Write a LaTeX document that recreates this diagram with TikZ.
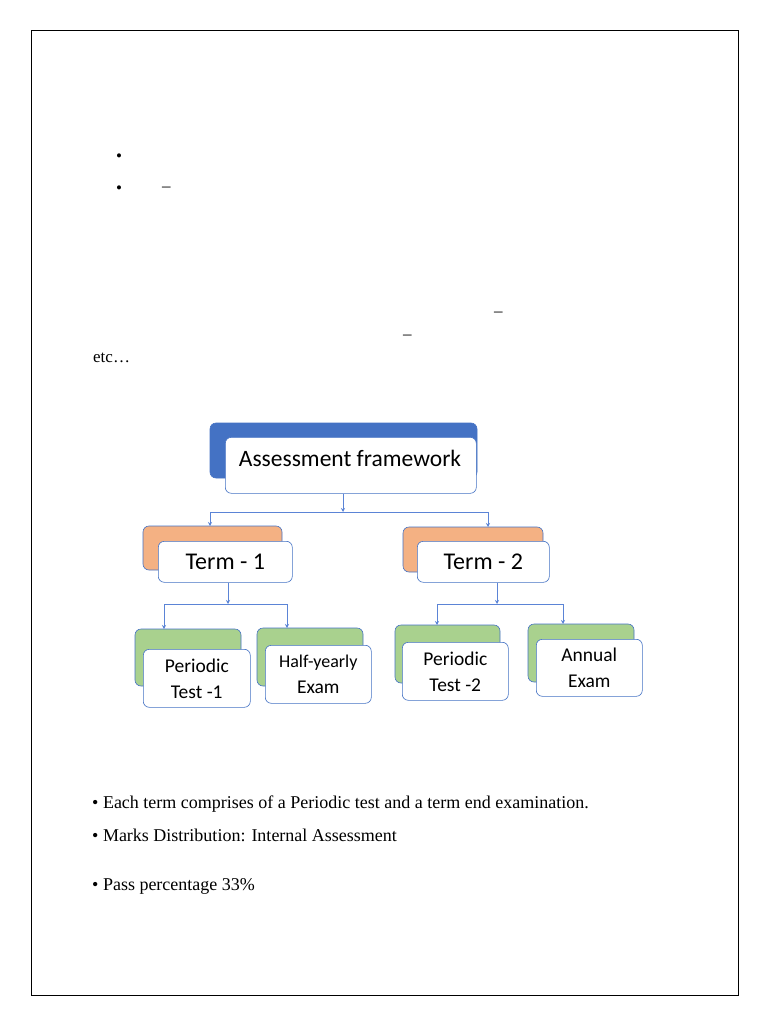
\documentclass[tikz,border=0pt]{standalone}
\usepackage{fontspec}
\usetikzlibrary{arrows.meta}
\setmainfont{Liberation Serif}
\newfontfamily\boxfont{Carlito}
\definecolor{bblue}{HTML}{4472C4}
\definecolor{borange}{HTML}{F4B183}
\definecolor{bgreen}{HTML}{A9D18E}
\definecolor{lineblue}{HTML}{5B84D6}
\begin{document}
\begin{tikzpicture}[x=1pt,y=-1pt,
  back/.style={draw=bblue,rounded corners=6pt,line width=0.6pt},
  front/.style={draw=bblue,fill=white,rounded corners=6pt,line width=0.6pt,align=center,font=\boxfont},
  conn/.style={draw=lineblue,line width=0.7pt},
  arr/.style={conn,-{Stealth[length=4pt,width=4pt]}},
  txt/.style={anchor=west,inner sep=0pt,font=\fontsize{17}{20}\selectfont}]
\useasboundingbox (0,0) rectangle (768,1024);
\draw[line width=0.6pt] (31,30) rectangle (738,995);
% top text remnants
\node[txt] (b1) at (116,158) {•};
\node[txt] (b2) at (116,190) {•};
\node[txt] (d1) at (162,189) {–};
\node[txt] (d2) at (494,314) {–};
\node[txt] (d3) at (403,337) {–};
\node[txt] (etc) at (93,358) {etc…};
% boxes
\draw[back,fill=bblue] (210,423) rectangle (477,478);
\node[front,minimum width=251pt,minimum height=56pt,anchor=north west] (af) at (225,437) {};
\node[font=\boxfont\fontsize{23.5}{28}\selectfont] (aft) at (350,458) {Assessment framework};
\draw[back,fill=borange] (143,526) rectangle (282,570);
\node[front,minimum width=134pt,minimum height=41pt,anchor=north west,font=\boxfont\fontsize{24}{28}\selectfont] (t1) at (158,541) {Term - 1};
\draw[back,fill=borange] (403,527) rectangle (543,572);
\node[front,minimum width=132pt,minimum height=41pt,anchor=north west,font=\boxfont\fontsize{24}{28}\selectfont] (t2) at (417,541) {Term - 2};
\draw[back,fill=bgreen] (135,629) rectangle (241,686);
\node[front,minimum width=107pt,minimum height=58pt,anchor=north west,font=\boxfont\fontsize{19.5}{26}\selectfont] (p1) at (143,649) {Periodic\\Test -1};
\draw[back,fill=bgreen] (257,628) rectangle (363,686);
\node[front,minimum width=106pt,minimum height=58pt,anchor=north west,font=\boxfont\fontsize{18}{26}\selectfont] (hy) at (265,645) {Half-yearly\\\fontsize{19.5}{26}\selectfont Exam};
\draw[back,fill=bgreen] (395,625) rectangle (500,683);
\node[front,minimum width=106pt,minimum height=58pt,anchor=north west,font=\boxfont\fontsize{19.5}{26}\selectfont] (p2) at (402,642) {Periodic\\Test -2};
\draw[back,fill=bgreen] (528,624) rectangle (634,682);
\node[front,minimum width=106pt,minimum height=57pt,anchor=north west,font=\boxfont\fontsize{19.5}{26}\selectfont] (an) at (536,639) {Annual\\Exam};
% connectors
\coordinate (j0) at (343,512);
\coordinate (j1) at (228,604);
\coordinate (j2) at (497,604);
\draw[arr] (af.south -| j0) -- (j0);
\draw[arr] (j0) -- (210,512) -- (210,526);
\draw[arr] (j0) -- (488,512) -- (488,527);
\draw[arr] (t1.south -| j1) -- (j1);
\draw[arr] (j1) -- (164,604) -- (164,629);
\draw[arr] (j1) -- (287,604) -- (287,628);
\draw[arr] (t2.south -| j2) -- (j2);
\draw[arr] (j2) -- (437,604) -- (437,625);
\draw[arr] (j2) -- (563,604) -- (563,624);
% bottom text
\node[txt,font=\fontsize{18}{21}\selectfont] (l1) at (92,804) {• Each term comprises of a Periodic test and a term end examination.};
\node[txt,font=\fontsize{18}{21}\selectfont] (l2) at (92,835) {• Marks Distribution: Internal Assessment};
\node[txt,font=\fontsize{18}{21}\selectfont] (l3) at (92,886) {• Pass percentage 33\%};
\end{tikzpicture}
\end{document}
